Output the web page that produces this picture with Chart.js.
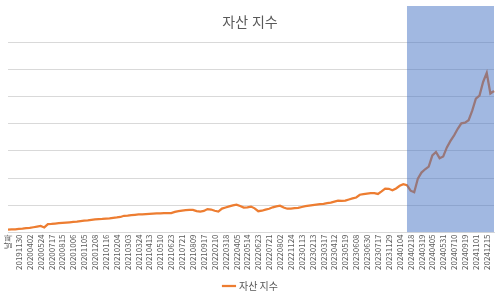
<!DOCTYPE html>
<html lang="ko">
<head>
<meta charset="utf-8">
<title>자산 지수</title>
<script src="https://cdn.jsdelivr.net/npm/chart.js@4.4.1/dist/chart.umd.min.js"></script>
<style>
    html, body { margin: 0; padding: 0; background: #fff; }
    #wrap { position: relative; width: 500px; height: 300px; }
    #chart-title {
        position: absolute; left: 0; top: 11px; width: 500px;
        text-align: center; font: 14px 'Noto Sans CJK KR', sans-serif; color: #595959;
        pointer-events: none;
    }
</style>
</head>
<body>
<div id="wrap">
    <canvas id="assetChart" width="500" height="300"></canvas>
    <div id="chart-title">자산 지수</div>
</div>
<script>
// --- DADOS ---
// rótulos mostrados no eixo x (um a cada 3 pontos)
const tickDates = ['날짜', '20191130', '20200402', '20200524', '20200717', '20200815', '20201006',
    '20201105', '20201208', '20210116', '20210204', '20210303', '20210324', '20210413', '20210510',
    '20210623', '20210721', '20210809', '20210917', '20220210', '20220318', '20220405', '20220514',
    '20220623', '20220721', '20220802', '20221124', '20230113', '20230213', '20230317', '20230412',
    '20230519', '20230608', '20230630', '20230717', '20231129', '20240104', '20240218', '20240319',
    '20240405', '20240531', '20240710', '20240919', '20241101', '20241215'];
const pointsPerTick = 3;

// 자산 지수
const assetIndex = [
    105.2, 105.6, 105.9, 106.5, 107.0, 107.8, 108.5, 109.6, 110.7, 111.9,
    109.3, 115.4, 115.7, 116.5, 117.0, 117.6, 118.1, 118.7, 119.4, 120.0,
    120.9, 121.7, 122.2, 123.1, 123.9, 124.6, 125.0, 125.6, 125.9, 126.9,
    127.6, 128.5, 130.7, 131.1, 132.0, 132.6, 133.1, 133.5, 133.9, 134.3,
    134.6, 135.0, 135.2, 135.4, 135.6, 135.7, 137.8, 139.3, 140.4, 141.1,
    141.7, 141.7, 139.4, 138.3, 139.6, 143.0, 142.2, 140.0, 138.5, 143.9,
    145.9, 148.0, 150.0, 151.3, 148.7, 145.7, 146.3, 147.6, 144.4, 139.1,
    140.0, 141.9, 143.7, 146.3, 148.1, 149.4, 145.9, 143.7, 144.1, 144.6,
    145.2, 146.9, 148.3, 149.3, 150.2, 151.1, 152.0, 152.8, 153.9, 155.0,
    156.9, 158.7, 158.1, 158.7, 160.7, 162.6, 164.4, 169.4, 170.4, 171.3,
    172.2, 172.2, 170.9, 175.6, 180.6, 180.4, 177.6, 180.9, 185.9, 188.7,
    187.0, 176.9, 174.1, 199.1, 210.2, 216.3, 221.1, 242.0, 248.1, 236.7,
    239.8, 256.5, 268.5, 278.7, 290.7, 300.9, 302.2, 306.5, 324.1, 346.3,
    351.9, 376.9, 393.5, 355.6, 360.2
];

// faixa destacada (2024) a partir deste ponto
const highlightFrom = 110;

// --- MONTAGEM ---
const labels = assetIndex.map((v, i) => i % pointsPerTick === 0 ? (tickDates[i / pointsPerTick] || '') : '');
const highlight = assetIndex.map((v, i) => i >= highlightFrom ? 1 : null);

const font = "'Noto Sans CJK KR', 'Noto Sans', sans-serif";

new Chart(document.getElementById('assetChart'), {
    type: 'line',
    data: {
        labels: labels,
        datasets: [{
            label: '2024',
            data: highlight,
            yAxisID: 'y2',
            fill: 'origin',
            backgroundColor: 'rgba(68, 114, 196, 0.5)',
            borderWidth: 0,
            pointRadius: 0,
            spanGaps: false,
            order: 0
        }, {
            label: '자산 지수',
            data: assetIndex,
            borderColor: '#ED7D31',
            backgroundColor: '#ED7D31',
            borderWidth: 2.25,
            pointRadius: 0,
            tension: 0,
            order: 1
        }]
    },
    options: {
        responsive: false,
        animation: false,
        layout: { padding: { left: 8, right: 6, top: 6, bottom: -1 } },
        scales: {
            x: {
                offset: false,
                // os rótulos girados reservam espaço à direita; não precisamos dele
                afterFit: scale => { scale.paddingRight = 0; },
                grid: { display: false, drawTicks: false },
                border: { color: '#d9d9d9' },
                ticks: {
                    autoSkip: false,
                    minRotation: 90,
                    maxRotation: 90,
                    padding: 2,
                    color: '#595959',
                    font: { family: font, size: 8 }
                }
            },
            y: {
                min: 100,
                max: 100 + 50 * 225 / 27,
                ticks: { display: false, stepSize: 50 },
                border: { display: false },
                grid: {
                    color: ctx => ctx.tick.value % 50 === 0 ? '#d9d9d9' : 'rgba(0,0,0,0)',
                    drawTicks: false
                }
            },
            y2: { display: false, min: 0, max: 1 }
        },
        plugins: {
            title: { display: false },
            tooltip: { enabled: false },
            legend: {
                position: 'bottom',
                labels: {
                    filter: item => item.text !== '2024',
                    usePointStyle: true,
                    pointStyle: 'line',
                    boxWidth: 20,
                    color: '#595959',
                    padding: 9,
                    font: { family: font, size: 10 }
                }
            }
        }
    }
});
</script>
</body>
</html>
